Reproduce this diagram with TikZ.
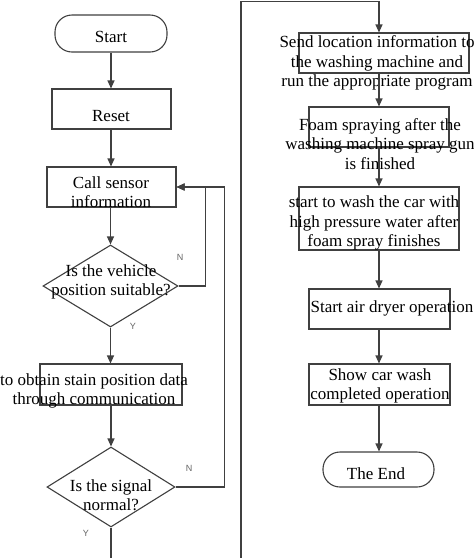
\documentclass[tikz,border=0pt]{standalone}
\usepackage{fontspec}
\setmainfont{Liberation Serif}
\newfontfamily\lblfont{Liberation Sans}
\usetikzlibrary{shapes.geometric,arrows.meta}
\definecolor{ln}{HTML}{404040}
\tikzset{
  boxnode/.style={draw=ln,line width=1.1pt,rectangle,inner sep=0pt},
  termnode/.style={draw=ln,line width=1.1pt,rectangle,rounded corners=17pt,inner sep=0pt},
  decnode/.style={draw=ln,line width=1.1pt,diamond,inner sep=0pt,aspect=1},
  txt/.style={align=center,inner sep=0pt,font=\fontsize{17}{19.5}\selectfont},
  yn/.style={inner sep=0pt,font=\lblfont\fontsize{9}{10}\selectfont,text=ln!80},
  conn/.style={draw=ln,line width=1.1pt},
  arr/.style={conn,-{Triangle[length=8pt,width=7pt]}}
}
\begin{document}
\begin{tikzpicture}[x=1pt,y=-1pt]
\useasboundingbox[fill=white] (0,0) rectangle (474,558);
% left column shapes
\node[termnode,minimum width=112pt,minimum height=37pt] (start) at (111,33.5) {};
\node[txt] (startT) at (111,37) {Start};
\node[boxnode,minimum width=119pt,minimum height=40pt] (reset) at (111.5,109) {};
\node[txt] (resetT) at (111,116) {Reset};
\node[boxnode,minimum width=129pt,minimum height=40pt] (call) at (111.5,187) {};
\node[txt] (callT) at (111,192) {Call sensor\\information};
\node[decnode,minimum width=135pt,minimum height=82pt] (d1) at (110.5,286) {};
\node[txt] (d1T) at (111,282) {Is the vehicle\\position suitable?};
\node[boxnode,minimum width=142pt,minimum height=41pt] (obtain) at (111,384.5) {};
\node[txt] (obtainT) at (94,391) {to obtain stain position data\\through communication};
\node[decnode,minimum width=128pt,minimum height=80pt] (d2) at (111,487) {};
\node[txt] (d2T) at (111,495) {Is the signal\\normal?};
% right column shapes
\node[boxnode,minimum width=170pt,minimum height=40pt] (send) at (384,53) {};
\node[txt] (sendT) at (377,63) {Send location information to\\the washing machine and\\run the appropriate program};
\node[boxnode,minimum width=140pt,minimum height=40pt] (foam) at (379,127) {};
\node[txt] (foamT) at (380,144) {Foam spraying after the\\washing machine spray gun\\is finished};
\node[boxnode,minimum width=160pt,minimum height=63pt] (wash) at (379,218.5) {};
\node[txt] (washT) at (374,223) {start to wash the car with\\high pressure water after\\foam spray finishes};
\node[boxnode,minimum width=141pt,minimum height=40pt] (dryer) at (379.5,309) {};
\node[txt] (dryerT) at (392,308) {Start air dryer operation};
\node[boxnode,minimum width=141pt,minimum height=41pt] (show) at (379.5,384.5) {};
\node[txt] (showT) at (380,386) {Show car wash\\completed operation};
\node[termnode,minimum width=111pt,minimum height=35pt] (end) at (378.5,469.5) {};
\node[txt] (endT) at (376,474) {The End};
% labels
\node[yn] (n1) at (180,257) {N};
\node[yn] (y1) at (133,326) {Y};
\node[yn] (n2) at (189,468) {N};
\node[yn] (y2) at (86,533) {Y};
% connectors left
\draw[arr] (start.south) -- (reset.north -| start.south);
\draw[arr] (reset.south -| start.south) -- (call.north -| start.south);
\draw[arr] (call.south -| d1.north) -- (d1.north);
\draw[arr] (d1.south) -- (obtain.north -| d1.south);
\draw[arr] (obtain.south -| d2.north) -- (d2.north);
\draw[arr] (d1.east) -- ++(27,0) |- (call.east);
\draw[arr] (d2.east) -- ++(49,0) |- (call.east);
\coordinate (loopTop) at (241,1.5);
\draw[arr] (d2.south) |- (241,620) -- (loopTop) -| (379,0 |- send.north);
% connectors right
\draw[arr] (379,0 |- send.south) -- (379,0 |- foam.north);
\draw[arr] (379,0 |- foam.south) -- (379,0 |- wash.north);
\draw[arr] (379,0 |- wash.south) -- (379,0 |- dryer.north);
\draw[arr] (379,0 |- dryer.south) -- (379,0 |- show.north);
\draw[arr] (379,0 |- show.south) -- (379,0 |- end.north);
\end{tikzpicture}
\end{document}
